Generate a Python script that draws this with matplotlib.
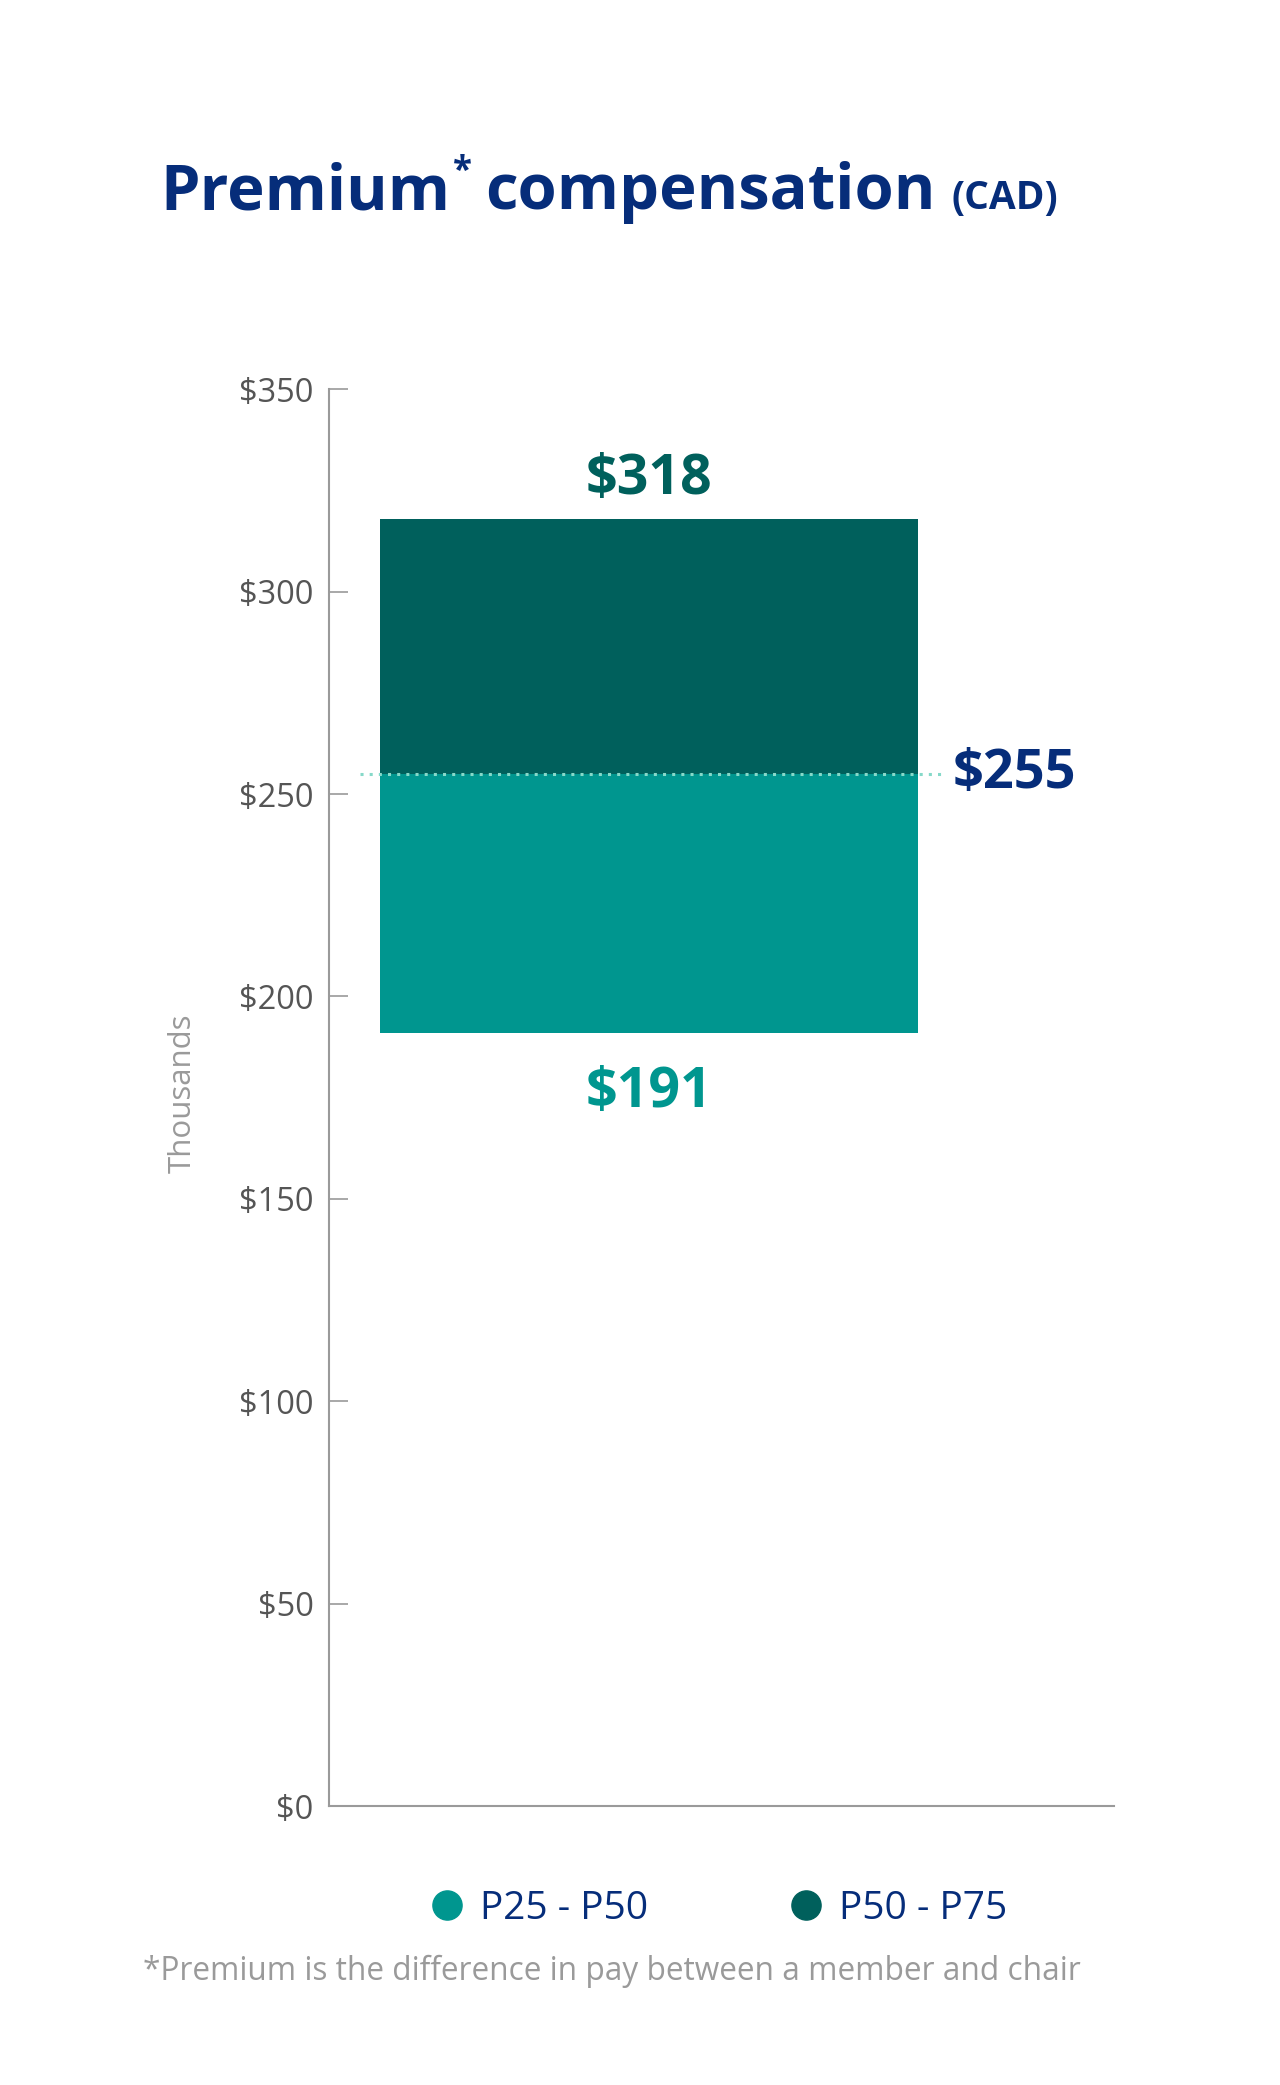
import matplotlib.pyplot as plt
from matplotlib.lines import Line2D

# values in thousands CAD
p25 = 191
p50 = 255
p75 = 318
segments = ['P25 - P50', 'P50 - P75']
colors = ['#00968f', '#00605c']
yticks = [0, 50, 100, 150, 200, 250, 300, 350]

navy = '#062d7a'
plt.rcParams['font.family'] = ['Open Sans', 'DejaVu Sans']

fig = plt.figure(figsize=(12.8, 20.85), dpi=100)
ax = fig.add_axes([0.257, 0.1338, 0.613, 0.6795])

bx = 0.408
bw = 0.686
ax.bar(bx, p50 - p25, bottom=p25, width=bw, color=colors[0], label=segments[0])
ax.bar(bx, p75 - p50, bottom=p50, width=bw, color=colors[1], label=segments[1])
ax.plot([bx - bw / 2 - 0.025, bx + bw / 2 + 0.03], [p50, p50],
        color='#86d9c9', lw=2.2, ls=(0, (1, 2)))

ax.text(bx, p75 + 3, f'${p75}', ha='center', va='bottom', fontsize=40,
        fontweight='bold', color=colors[1])
ax.text(bx, p25 - 8, f'${p25}', ha='center', va='top', fontsize=40,
        fontweight='bold', color=colors[0])
ax.text(bx + bw / 2 + 0.044, p50, f'${p50}', ha='left', va='center', fontsize=39,
        fontweight='bold', color=navy)

ax.set_xlim(0, 1)
ax.set_ylim(0, 350)
ax.set_xticks([])
ax.set_yticks(yticks)
ax.set_yticklabels([f'${v}' for v in yticks])
ax.tick_params(axis='y', direction='in', length=14, width=1.2, color='#9a9a9a',
               labelsize=23.5, labelcolor='#555555', pad=11)
for s in ['top', 'right']:
    ax.spines[s].set_visible(False)
for s in ['left', 'bottom']:
    ax.spines[s].set_color('#9a9a9a')
    ax.spines[s].set_linewidth(1.5)

fig.text(183 / 1280, 1 - 1093 / 2085, 'Thousands', rotation=90, ha='center',
         va='center', fontsize=22.5, color='#9a9a9a')

# title pieces
fig.canvas.draw()
r = fig.canvas.get_renderer()
x0 = 160 / 1280
yb = 1 - 209 / 2085
t = fig.text(x0, yb, 'Premium', fontsize=45.5, fontweight='bold', color=navy, va='baseline')
x = t.get_window_extent(r).x1 / 1280
t = fig.text(x + 0.002, yb + 0.0135, '*', fontsize=25, fontweight='bold', color=navy, va='baseline')
x = t.get_window_extent(r).x1 / 1280
t = fig.text(x + 0.011, yb, 'compensation', fontsize=45.5, fontweight='bold', color=navy, va='baseline')
x = t.get_window_extent(r).x1 / 1280
fig.text(x + 0.012, yb, '(CAD)', fontsize=28, fontweight='bold', color=navy, va='baseline')

handles = [Line2D([], [], ls='', marker='o', markersize=21, color=c) for c in colors]
fig.legend(handles, segments, loc='center', bbox_to_anchor=(0.5605, 1 - 1909 / 2085),
           ncol=2, frameon=False, fontsize=28, labelcolor=navy, handletextpad=0.35,
           columnspacing=3.55, handlelength=1.0)

fig.text(143 / 1280, 1 - 1971 / 2085,
         '*Premium is the difference in pay between a member and chair',
         ha='left', va='center', fontsize=22.8, color='#9a9a9a')

fig.savefig('out.png', dpi=100)
